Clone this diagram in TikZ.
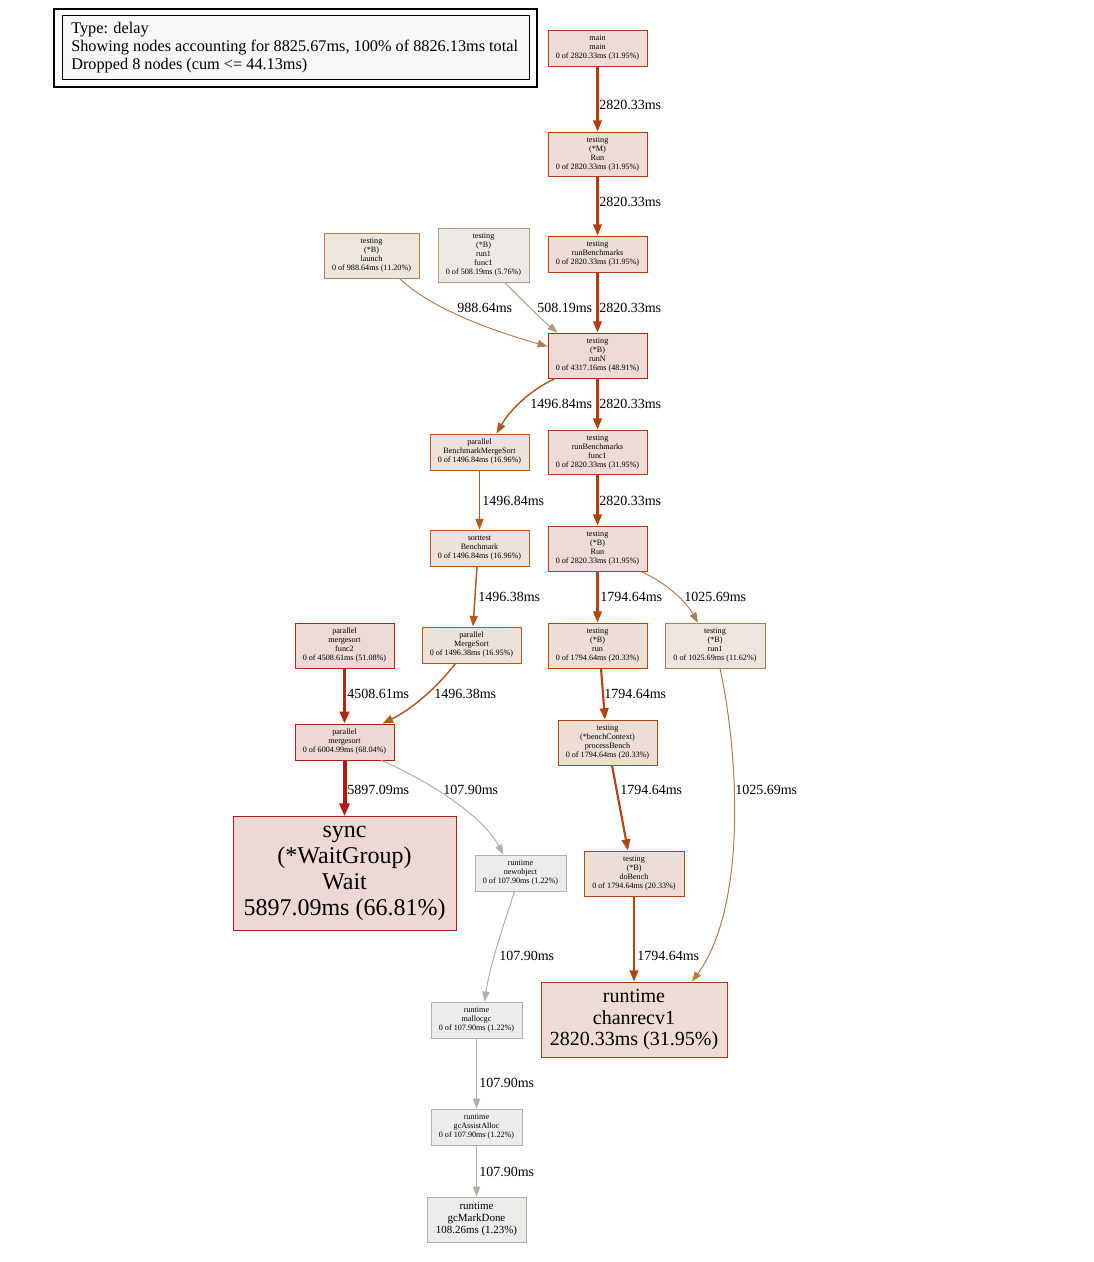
\documentclass[tikz,border=0pt]{standalone}
\usepackage{fontspec}
\setmainfont{Liberation Serif}
\usetikzlibrary{arrows.meta,calc}
\definecolor{fgA}{HTML}{B23C10}\definecolor{bgA}{HTML}{EDDCD5}
\definecolor{fgS}{HTML}{B21B10}\definecolor{bgS}{HTML}{EDD8D5}
\definecolor{fgF}{HTML}{B22610}\definecolor{bgF}{HTML}{EDD9D5}
\definecolor{fgM}{HTML}{B21E10}\definecolor{bgM}{HTML}{EDD8D5}
\definecolor{fgN}{HTML}{B22A10}\definecolor{bgN}{HTML}{EDDAD5}
\definecolor{fgR}{HTML}{B24410}\definecolor{bgR}{HTML}{EDDED5}
\definecolor{fgP}{HTML}{B2591B}\definecolor{bgP}{HTML}{EDE1D9}
\definecolor{fgO}{HTML}{B27C4A}\definecolor{bgO}{HTML}{EDE5DF}
\definecolor{fgL}{HTML}{B27E4E}\definecolor{bgL}{HTML}{EDE6DF}
\definecolor{fgQ}{HTML}{B29C7F}\definecolor{bgQ}{HTML}{EDEAE6}
\definecolor{fgG}{HTML}{B2AFA7}\definecolor{bgG}{HTML}{EDECEB}
\begin{document}
\begin{tikzpicture}[x=0.75pt,y=-0.75pt,
  box/.style={draw, rectangle, inner sep=0pt, align=center, line width=0.6pt,
    font=\fontsize{6.1}{6.75}\selectfont},
  sz/.style 2 args={minimum width=#1*0.75pt, minimum height=#2*0.75pt},
  cA/.style={draw=fgA, fill=bgA}, cS/.style={draw=fgS, fill=bgS},
  cF/.style={draw=fgF, fill=bgF}, cM/.style={draw=fgM, fill=bgM},
  cN/.style={draw=fgN, fill=bgN}, cR/.style={draw=fgR, fill=bgR},
  cP/.style={draw=fgP, fill=bgP}, cO/.style={draw=fgO, fill=bgO},
  cL/.style={draw=fgL, fill=bgL}, cQ/.style={draw=fgQ, fill=bgQ},
  cG/.style={draw=fgG, fill=bgG},
  elab/.style={anchor=west, inner sep=0pt, font=\fontsize{10.5}{12}\selectfont},
  ethin/.style={line width=0.75pt, -{Triangle[length=7.5pt,width=5.5pt]}},
  emid/.style={line width=1.1pt, -{Triangle[length=8pt,width=6pt]}},
  ethick/.style={line width=1.6pt, -{Triangle[length=8.5pt,width=6.5pt]}},
  ethree/.style={line width=2.3pt, -{Triangle[length=9pt,width=7pt]}},
  efour/.style={line width=3pt, -{Triangle[length=9.5pt,width=7.5pt]}},
]
\useasboundingbox (0,0) rectangle (1093,1262);

% legend
\node[draw, line width=1.1pt, minimum width=483*0.75pt, minimum height=78*0.75pt] (legframe) at (295.5,48) {};
\node[draw, fill=black!3, line width=0.75pt, minimum width=467*0.75pt, minimum height=64*0.75pt] (legend) at (295.5,48) {};
\node[anchor=west, align=left, inner sep=0pt, font=\fontsize{12.2}{13.5}\selectfont] (legtext) at (71,47.5)
  {Type: delay\\Showing nodes accounting for 8825.67ms, 100\% of 8826.13ms total\\Dropped 8 nodes (cum <= 44.13ms)};

% nodes
\node[box, cA, sz={99}{36}] (main) at (597.5,48) {main\\main\\0 of 2820.33ms (31.95\%)};
\node[box, cA, sz={99}{44}] (Mrun) at (597.5,154) {testing\\(*M)\\Run\\0 of 2820.33ms (31.95\%)};
\node[box, cA, sz={99}{36}] (rbm) at (597.5,254) {testing\\runBenchmarks\\0 of 2820.33ms (31.95\%)};
\node[box, cL, sz={95}{45}] (launch) at (371.5,255.5) {testing\\(*B)\\launch\\0 of 988.64ms (11.20\%)};
\node[box, cQ, sz={91}{54}] (runonef) at (483.5,255) {testing\\(*B)\\run1\\func1\\0 of 508.19ms (5.76\%)};
\node[box, cN, sz={99}{45}] (runN) at (597.5,355.5) {testing\\(*B)\\runN\\0 of 4317.16ms (48.91\%)};
\node[box, cP, sz={99}{36}] (bms) at (479.5,452) {parallel\\BenchmarkMergeSort\\0 of 1496.84ms (16.96\%)};
\node[box, cA, sz={99}{44}] (rbmf) at (597.5,452) {testing\\runBenchmarks\\func1\\0 of 2820.33ms (31.95\%)};
\node[box, cP, sz={99}{36}] (stb) at (479.5,548) {sorttest\\Benchmark\\0 of 1496.84ms (16.96\%)};
\node[box, cA, sz={99}{45}] (Brun) at (597.5,548.5) {testing\\(*B)\\Run\\0 of 2820.33ms (31.95\%)};
\node[box, cF, sz={99}{45}] (func2) at (344.5,645.5) {parallel\\mergesort\\func2\\0 of 4508.61ms (51.08\%)};
\node[box, cP, sz={99}{36}] (pms) at (471.5,645) {parallel\\MergeSort\\0 of 1496.38ms (16.95\%)};
\node[box, cR, sz={99}{45}] (brunl) at (597.5,645.5) {testing\\(*B)\\run\\0 of 1794.64ms (20.33\%)};
\node[box, cO, sz={100}{45}] (runone) at (715,645.5) {testing\\(*B)\\run1\\0 of 1025.69ms (11.62\%)};
\node[box, cM, sz={99}{36}] (msort) at (344.5,742) {parallel\\mergesort\\0 of 6004.99ms (68.04\%)};
\node[box, cR, sz={99}{45}] (pbench) at (607.5,742.5) {testing\\(*benchContext)\\processBench\\0 of 1794.64ms (20.33\%)};
\node[box, cS, sz={223}{114}, font=\fontsize{18}{19.5}\selectfont] (sync) at (344.5,873.5) {sync\\(*WaitGroup)\\Wait\\5897.09ms (66.81\%)};
\node[box, cG, sz={91}{36}] (newobj) at (520.5,873) {runtime\\newobject\\0 of 107.90ms (1.22\%)};
\node[box, cR, sz={100}{45}] (dobench) at (634,873.5) {testing\\(*B)\\doBench\\0 of 1794.64ms (20.33\%)};
\node[box, cA, sz={186}{75}, font=\fontsize{15}{16.1}\selectfont] (chan) at (634,1019.5) {runtime\\chanrecv1\\2820.33ms (31.95\%)};
\node[box, cG, sz={91}{36}] (malloc) at (476.5,1020) {runtime\\mallocgc\\0 of 107.90ms (1.22\%)};
\node[box, cG, sz={91}{36}] (gcassist) at (476.5,1127) {runtime\\gcAssistAlloc\\0 of 107.90ms (1.22\%)};
\node[box, cG, sz={99}{45}, font=\fontsize{8.2}{9}\selectfont] (gcmark) at (476.5,1219.5) {runtime\\gcMarkDone\\108.26ms (1.23\%)};

% edges
\draw[ethick, fgA] (main) -- (Mrun);
\node[elab] (l1) at (599,104.5) {2820.33ms};
\draw[ethick, fgA] (Mrun) -- (rbm);
\node[elab] (l2) at (599,201.5) {2820.33ms};
\draw[ethick, fgA] (rbm) -- (runN);
\node[elab] (l3) at (599,307.5) {2820.33ms};
\draw[ethin, fgL] ($(launch.south)+(28,0)$) .. controls (430,308) and (490,330) .. ($(runN.west)+(0,-9)$);
\node[elab] (l4) at (457,307.5) {988.64ms};
\draw[ethin, fgQ] ($(runonef.south)+(21,0)$) .. controls (520,298) and (540,318) .. ($(runN.north)+(-40,0)$);
\node[elab] (l5) at (537,307.5) {508.19ms};
\draw[emid, fgP] ($(runN.south)+(-42,0)$) .. controls (530,390) and (510,410) .. ($(bms.north)+(17,0)$);
\node[elab] (l6) at (530,403.5) {1496.84ms};
\draw[ethick, fgA] (runN) -- (rbmf);
\node[elab] (l7) at (599,403.5) {2820.33ms};
\draw[emid, fgP] (bms) -- (stb);
\node[elab] (l8) at (482,500.5) {1496.84ms};
\draw[ethick, fgA] (rbmf) -- (Brun);
\node[elab] (l9) at (599,500.5) {2820.33ms};
\draw[emid, fgP] ($(stb.south)+(-2.5,0)$) -- ($(pms.north)+(1.5,0)$);
\node[elab] (l10) at (478,596.5) {1496.38ms};
\draw[ethick, fgR] (Brun) -- (brunl);
\node[elab] (l11) at (600,596.5) {1794.64ms};
\draw[ethin, fgO] ($(Brun.south)+(43,0)$) .. controls (665,582) and (685,600) .. ($(runone.north)+(-17,0)$);
\node[elab] (l12) at (684,596.5) {1025.69ms};
\draw[ethree, fgF] (func2) -- (msort);
\node[elab] (l13) at (347,693.5) {4508.61ms};
\draw[emid, fgP] ($(pms.south)+(-16,0)$) .. controls (435,690) and (410,710) .. ($(msort.north)+(38,0)$);
\node[elab] (l14) at (434,693.5) {1496.38ms};
\draw[ethick, fgR] ($(brunl.south)+(3.5,0)$) -- ($(pbench.north)+(-2.5,0)$);
\node[elab] (l15) at (604,693.5) {1794.64ms};
\draw[efour, fgS] (msort) -- (sync);
\node[elab] (l16) at (347,789.5) {5897.09ms};
\draw[ethin, fgG] ($(msort.south)+(37,0)$) .. controls (430,782) and (482,815) .. ($(newobj.north)+(-17,0)$);
\node[elab] (l17) at (443,789.5) {107.90ms};
\draw[ethick, fgR] ($(pbench.south)+(4.5,0)$) -- ($(dobench.north)+(-6,0)$);
\node[elab] (l18) at (620,789.5) {1794.64ms};
\draw[ethin, fgO] ($(runone.south)+(5,0)$) .. controls (738,750) and (748,905) .. ($(chan.north)+(58,0)$);
\node[elab] (l19) at (735,789.5) {1025.69ms};
\draw[ethin, fgG] ($(newobj.south)+(-6,0)$) .. controls (502,930) and (490,965) .. ($(malloc.north)+(8,0)$);
\node[elab] (l20) at (499,955.5) {107.90ms};
\draw[ethick, fgR] (dobench) -- (chan);
\node[elab] (l21) at (637,955.5) {1794.64ms};
\draw[ethin, fgG] (malloc) -- (gcassist);
\node[elab] (l22) at (479,1082.5) {107.90ms};
\draw[ethin, fgG] (gcassist) -- (gcmark);
\node[elab] (l23) at (479,1171.5) {107.90ms};
\end{tikzpicture}
\end{document}
